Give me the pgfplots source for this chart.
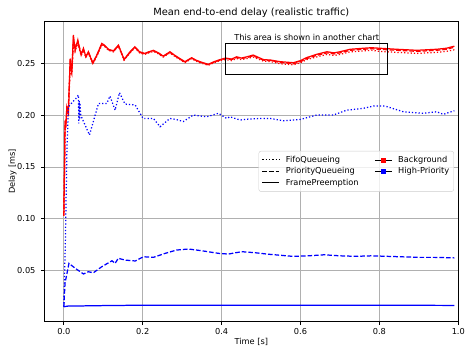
\documentclass[border=0pt]{standalone}
\usepackage{fontspec}
\setmainfont{DejaVu Sans}
\usepackage{pgfplots}
\usepackage{pgfplotstable}
\pgfplotsset{compat=1.18}
\definecolor{gridc}{HTML}{B0B0B0}
\definecolor{legc}{HTML}{CCCCCC}

\pgfplotstableread{
x rs rd rt
0.000 0.103 0.103 0.103
0.002 0.160 0.155 0.150
0.003 0.195 0.190 0.185
0.005 0.188 0.192 0.190
0.0076 0.208 0.205 0.200
0.0117 0.202 0.210 0.205
0.016 0.255 0.250 0.245
0.0203 0.2407 0.245 0.240
0.0243 0.2777 0.274 0.270
0.0286 0.263 0.266 0.262
0.0355 0.273 0.271 0.270
0.0388 0.2664 0.267 0.265
0.0439 0.2584 0.260 0.258
0.0497 0.2649 0.264 0.263
0.0558 0.2567 0.257 0.256
0.0623 0.2616 0.261 0.260
0.0735 0.2503 0.251 0.250
0.0836 0.2584 0.258 0.257
0.0963 0.2697 0.269 0.268
0.1029 0.268 0.2675 0.267
0.113 0.264 0.2635 0.263
0.1257 0.2625 0.262 0.2615
0.1384 0.268 0.2675 0.267
0.1528 0.2542 0.254 0.2535
0.1679 0.2616 0.261 0.2605
0.180 0.2664 0.266 0.2655
0.192 0.2616 0.261 0.2605
0.205 0.260 0.2595 0.259
0.215 0.2615 0.261 0.2605
0.227 0.263 0.2625 0.262
0.240 0.2605 0.260 0.2595
0.252 0.2574 0.257 0.2565
0.269 0.2616 0.261 0.2605
0.280 0.2585 0.258 0.2575
0.290 0.256 0.2555 0.255
0.307 0.252 0.2515 0.251
0.324 0.2558 0.2555 0.255
0.335 0.2535 0.253 0.2525
0.345 0.252 0.2515 0.251
0.366 0.2494 0.249 0.2485
0.381 0.252 0.2515 0.251
0.396 0.254 0.2535 0.253
0.410 0.2555 0.255 0.254
0.425 0.2545 0.254 0.253
0.438 0.2567 0.256 0.255
0.450 0.2555 0.255 0.254
0.464 0.2567 0.256 0.255
0.480 0.2584 0.2575 0.2565
0.506 0.254 0.2535 0.2525
0.525 0.2535 0.253 0.252
0.548 0.252 0.2512 0.250
0.582 0.251 0.250 0.249
0.600 0.253 0.252 0.251
0.616 0.256 0.255 0.254
0.640 0.259 0.258 0.2565
0.667 0.2616 0.2605 0.259
0.685 0.2605 0.2595 0.258
0.700 0.2616 0.2605 0.259
0.726 0.264 0.263 0.2615
0.760 0.265 0.264 0.2625
0.780 0.2655 0.2645 0.263
0.800 0.265 0.264 0.262
0.844 0.264 0.263 0.261
0.870 0.2635 0.2625 0.2605
0.895 0.263 0.262 0.260
0.920 0.2635 0.2625 0.2605
0.945 0.264 0.263 0.261
0.970 0.265 0.264 0.262
0.990 0.267 0.266 0.2635
}\redtab

\pgfplotstableread{
x y
0 0.0147
0.004 0.08
0.008 0.17
0.0117 0.2083
0.020 0.212
0.030 0.216
0.037 0.2197
0.038 0.1922
0.039 0.214
0.040 0.196
0.041 0.212
0.043 0.200
0.065 0.181
0.088 0.2116
0.109 0.2116
0.117 0.2187
0.130 0.205
0.141 0.222
0.155 0.211
0.181 0.210
0.201 0.197
0.227 0.197
0.244 0.189
0.269 0.197
0.285 0.196
0.303 0.194
0.328 0.2003
0.362 0.1986
0.392 0.202
0.413 0.197
0.421 0.1986
0.447 0.1955
0.470 0.1965
0.500 0.197
0.523 0.197
0.557 0.1948
0.599 0.196
0.641 0.2003
0.683 0.2003
0.717 0.205
0.759 0.2068
0.785 0.209
0.814 0.209
0.861 0.2035
0.911 0.202
0.945 0.2035
0.962 0.201
0.990 0.2045
}\bluefifo

\pgfplotstableread{
x y
0 0.0147
0.003 0.0374
0.013 0.0567
0.029 0.0519
0.050 0.0464
0.062 0.0486
0.075 0.0476
0.096 0.0534
0.122 0.0592
0.130 0.0567
0.138 0.0616
0.155 0.0599
0.181 0.059
0.202 0.0631
0.227 0.0625
0.257 0.0664
0.286 0.0696
0.316 0.0706
0.350 0.0689
0.392 0.0664
0.417 0.0657
0.451 0.068
0.485 0.067
0.52 0.0655
0.55 0.0645
0.58 0.0635
0.62 0.064
0.66 0.065
0.70 0.064
0.74 0.0635
0.78 0.064
0.82 0.0635
0.86 0.063
0.90 0.0625
0.94 0.0625
0.99 0.062
}\bluepq

\pgfplotstableread{
x y
0 0.0147
0.01 0.0153
0.1 0.0158
0.2 0.0162
0.5 0.0162
0.8 0.0161
0.99 0.0160
}\bluefp

\begin{document}
\begin{tikzpicture}
\begin{axis}[
  scale only axis,
  width=414bp, height=299.6bp,
  at={(0,0)}, anchor=south west,
  xmin=-0.0495, xmax=1.0,
  ymin=0.0006, ymax=0.2907,
  xtick={0,0.2,0.4,0.6,0.8,1.0},
  xticklabels={0.0,0.2,0.4,0.6,0.8,1.0},
  ytick={0.05,0.10,0.15,0.20,0.25},
  yticklabels={0.05,0.10,0.15,0.20,0.25},
  tick pos=left,
  tick align=outside,
  major tick length=3.5bp,
  every tick/.style={black, line width=0.66bp},
  axis line style={line width=0.66bp, black},
  grid=major,
  grid style={gridc, line width=0.66bp},
  font=\fontsize{8.25}{10}\selectfont,
  /pgf/number format/assume math mode=true,
  yticklabel style={xshift=-1.8bp},
  every axis title shift=0pt,
  title={Mean end-to-end delay (realistic traffic)},
  title style={at={(axis description cs:0.5,1)}, anchor=south, yshift=4bp, inner sep=0pt, font=\fontsize{9.9}{12}\selectfont},
  xlabel={Time [s]},
  ylabel={Delay [ms]},
  xlabel style={at={(axis description cs:0.5,-0.0681)}, anchor=center},
  ylabel style={at={(axis description cs:-0.0768,0.5)}, anchor=center},
  legend columns=2,
  legend cell align=left,
  legend style={at={(axis description cs:0.9896,0.5005)}, anchor=east,
    draw=legc, rounded corners=2.5bp, fill=white, fill opacity=0.8,
    draw opacity=1, text opacity=1, inner sep=3bp, column sep=4.5bp,
    nodes={inner sep=1.5bp, text height=6.6bp, text depth=1.9bp},
    font=\fontsize{8.25}{10}\selectfont},
]
\addplot[red, line width=1.24bp, dash pattern=on 1.24bp off 2.05bp, forget plot] table[x=x,y=rt] {\redtab};
\addplot[red, line width=1.24bp, dash pattern=on 4.6bp off 2bp, forget plot] table[x=x,y=rd] {\redtab};
\addplot[red, line width=1.24bp, forget plot] table[x=x,y=rs] {\redtab};
\addplot[blue, line width=1.24bp, dash pattern=on 1.24bp off 2.05bp, forget plot] table {\bluefifo};
\addplot[blue, line width=1.24bp, dash pattern=on 4.6bp off 2bp, forget plot] table {\bluepq};
\addplot[blue, line width=1.24bp, forget plot] table {\bluefp};

\draw[black, line width=0.9bp] (axis cs:0.4105,0.2400) rectangle (axis cs:0.821,0.2697);
\node[anchor=west, inner sep=0pt, font=\fontsize{8.25}{10}\selectfont] at (axis cs:0.4316,0.2751) {This area is shown in another chart};

\addlegendimage{black, line width=1.24bp, dash pattern=on 1.24bp off 2.05bp}
\addlegendentry{\makebox[82.8bp][l]{FifoQueueing}}
\addlegendimage{draw=none, mark=square*, mark size=1.9bp, mark options={draw=red, fill=red, fill opacity=1, solid}}
\addlegendentry{Background}
\addlegendimage{black, line width=1.24bp, dash pattern=on 4.6bp off 2bp}
\addlegendentry{\makebox[82.8bp][l]{PriorityQueueing}}
\addlegendimage{draw=none, mark=square*, mark size=1.9bp, mark options={draw=blue, fill=blue, fill opacity=1, solid}}
\addlegendentry{High-Priority}
\addlegendimage{black, line width=1.24bp}
\addlegendentry{\makebox[82.8bp][l]{FramePreemption}}
\addlegendimage{empty legend}
\addlegendentry{}
\end{axis}
\pgfresetboundingbox
\path[use as bounding box] (-44.3bp,-33.7bp) rectangle (429.7bp,321.3bp);
\end{tikzpicture}
\end{document}
